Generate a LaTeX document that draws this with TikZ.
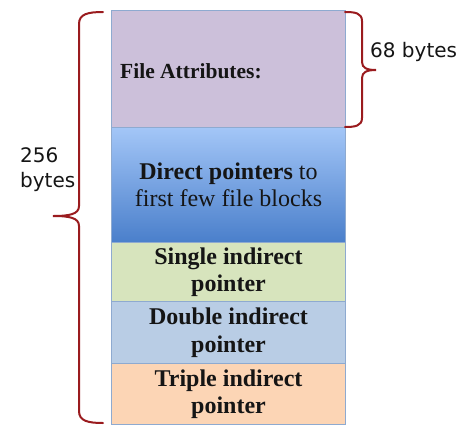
\documentclass[tikz,border=0pt]{standalone}
\usepackage{fontspec}
\setmainfont{Liberation Serif}
\newfontfamily\labelfont{DejaVu Sans}
\definecolor{attr}{HTML}{CCC0DA}
\definecolor{dirtop}{HTML}{A3C6F7}
\definecolor{dirbot}{HTML}{4A7FCB}
\definecolor{single}{HTML}{D7E4BD}
\definecolor{double}{HTML}{B9CDE5}
\definecolor{triple}{HTML}{FCD5B5}
\definecolor{edge}{HTML}{8EAAD0}
\definecolor{brace}{HTML}{9A1B1E}
\definecolor{ink}{HTML}{151515}
\tikzset{
  blk/.style={draw=edge, line width=1pt, minimum width=234pt, inner sep=0pt, anchor=north west, text=ink, align=center, font=\fontsize{24}{27.5}\selectfont\bfseries},
  bracepath/.style={draw=brace, line width=2pt, line cap=round},
  lbl/.style={font=\labelfont\fontsize{20}{25}\selectfont, text=ink, align=left, inner sep=0pt}
}
\begin{document}
\begin{tikzpicture}[x=1pt,y=-1pt]
\useasboundingbox (0,0) rectangle (474,445);
\node[blk, fill=attr, minimum height=117pt] (attr) at (111,10) {};
\node[ink, anchor=west, font=\fontsize{21.5}{24}\selectfont\bfseries, inner sep=0pt] (attrtext) at (120,71) {File Attributes:};
\node[blk, top color=dirtop, bottom color=dirbot, minimum height=115pt] (direct) at (111,127) {Direct pointers \mdseries to\\\mdseries first few file blocks};
\node[blk, fill=single, minimum height=59pt] (single) at (111,242) {Single indirect\\pointer};
\node[blk, fill=double, minimum height=62pt] (double) at (111,301) {Double indirect\\pointer};
\node[blk, fill=triple, minimum height=61pt] (triple) at (111,363) {Triple indirect\\pointer};
\draw[bracepath] (103,12) .. controls (88,12) and (79,14) .. (79,24) -- (79,206) .. controls (79,214) and (70,216) .. (53,216) .. controls (70,216) and (79,218) .. (79,226) -- (79,411) .. controls (79,421) and (88,423) .. (103,423);
\draw[bracepath] (345,12) .. controls (355,12) and (362,13) .. (362,21) -- (362,62) .. controls (362,68) and (367,70) .. (376,70) .. controls (367,70) and (362,72) .. (362,78) -- (362,118) .. controls (362,126) and (355,127) .. (345,127);
\node[lbl, anchor=west] (sixtyeight) at (370,52) {68 bytes};
\node[lbl, anchor=west] (twofiftysix) at (20,170) {256\\bytes};
\end{tikzpicture}
\end{document}
